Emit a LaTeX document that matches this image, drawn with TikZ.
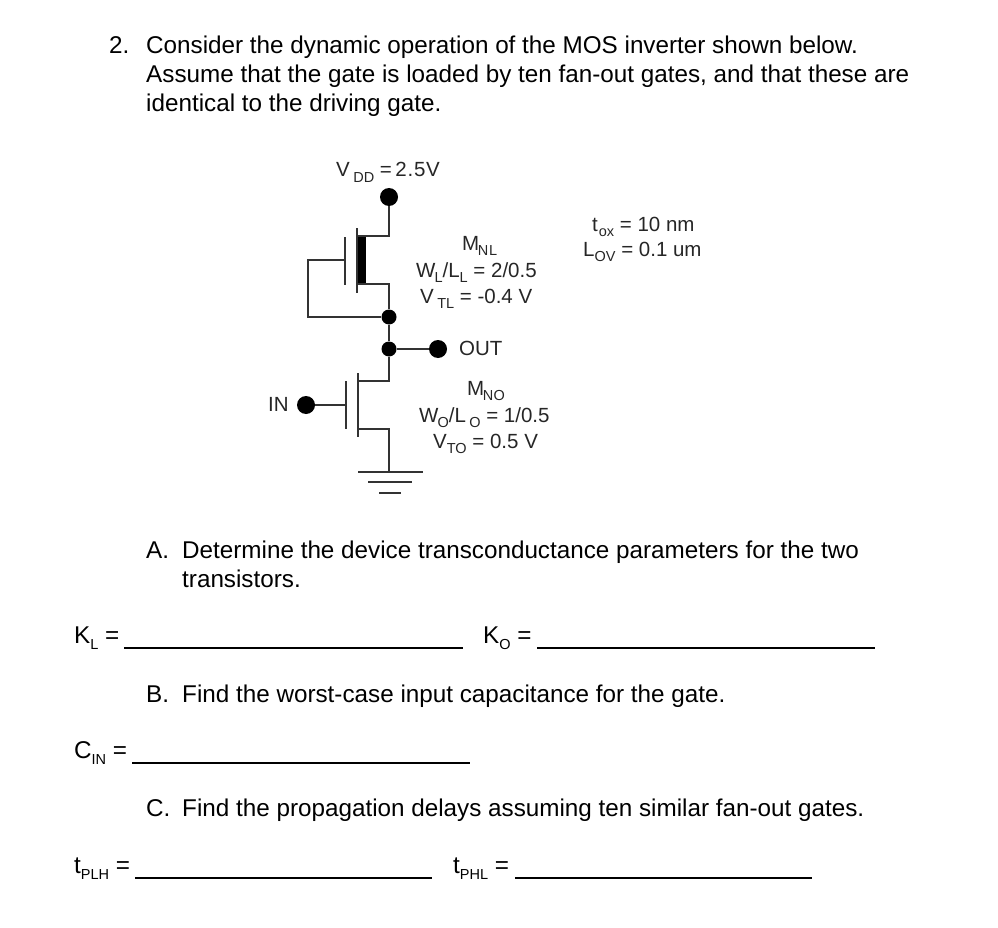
\documentclass[tikz,border=0pt]{standalone}
\usepackage{fontspec}
\setmainfont{Liberation Sans}
\newcommand{\lowtext}[1]{\raisebox{-.25em}{\fontsize{14.5}{15}\selectfont #1}}

\begin{document}
\begin{tikzpicture}[x=1pt, y=-1pt,
  txt/.style={anchor=base west, inner sep=0pt, font=\fontsize{24.25}{28}\selectfont},
  lbl/.style={anchor=base west, inner sep=0pt, text=black!85, font=\fontsize{20.5}{24}\selectfont},
  wire/.style={line width=1.35pt, draw=black!80},
  blank/.style={line width=1.3pt},
  pin/.style={circle, fill=black, inner sep=0pt, minimum size=18pt},
  junction/.style={circle, fill=black, inner sep=0pt, minimum size=15pt}]

\useasboundingbox (0,0) rectangle (998,928);

% problem text
\node[txt] (num) at (109,54) {2.};
\node[txt] (line1) at (146,54) {Consider the dynamic operation of the MOS inverter shown below.};
\node[txt] (line2) at (146,83) {Assume that the gate is loaded by ten fan-out gates, and that these are};
\node[txt] (line3) at (146,112) {identical to the driving gate.};

% load transistor
\node[pin] (vdd) at (389,197) {};
\node[junction] (mid) at (389,317) {};
\node[junction] (out) at (389,349) {};
\node[pin] (outpin) at (438,349) {};
\coordinate (dl) at (389,236);
\coordinate (sl) at (389,284);
\coordinate (dlc) at (357,236);
\coordinate (slc) at (357,284);
\coordinate (gl) at (345,260);
\coordinate (back) at (308,260);
\coordinate (backb) at (308,317);
\fill (357,236) rectangle (366,284);
\draw[wire] (357,228) -- (357,293);
\draw[wire] (345,237) -- (345,285);
\draw[wire] (vdd) -- (dl) -- (dlc);
\draw[wire] (slc) -- (sl) -- (mid);
\draw[wire] (gl) -- (back) -- (backb) -- (mid);
\draw[wire] (mid) -- (out);
\draw[wire] (out) -- (outpin);

% driver transistor
\node[pin] (inpin) at (306,405) {};
\coordinate (dd) at (389,381);
\coordinate (ddc) at (358,381);
\coordinate (sd) at (389,429);
\coordinate (sdc) at (358,429);
\coordinate (gd) at (346,405);
\coordinate (gnd) at (389,472);
\draw[wire] (358,373) -- (358,437);
\draw[wire] (346,381) -- (346,429);
\draw[wire] (out) -- (dd) -- (ddc);
\draw[wire] (sdc) -- (sd) -- (gnd);
\draw[wire] (inpin) -- (gd);

% ground
\draw[wire] (358,472) -- (423,472);
\draw[wire] (368,482) -- (412,482);
\draw[wire] (379,493) -- (401,493);

% circuit labels
\node[lbl] (vddlbl) at (336,177) {V\,\lowtext{DD} =\,2\kern.8pt.\kern.8pt5\kern.8pt V};
\node[lbl] (mnl) at (462,250) {M\kern-1.5pt\lowtext{N\kern1pt L}};
\node[lbl] (wll) at (416,277) {W\kern-1pt\lowtext{L}/L\lowtext{L} = 2/0.5};
\node[lbl] (vtl) at (420,303) {V\,\lowtext{TL} = -0.4 V};
\node[lbl] (outlbl) at (459,355) {OUT};
\node[lbl] (inlbl) at (268,411) {IN};
\node[lbl] (mno) at (467,395) {M\kern-1.5pt\lowtext{N\kern.5pt O}};
\node[lbl] (wlo) at (419,422) {W\kern-1pt\lowtext{O}/L\,\lowtext{O} = 1/0.5};
\node[lbl] (vto) at (433,448) {V\lowtext{TO} = 0.5 V};
\node[lbl] (tox) at (592,231) {t\kern1pt\lowtext{ox} = 10 nm};
\node[lbl] (lov) at (583,256) {L\lowtext{OV} = 0.1 um};

% question A
\node[txt] (qa) at (146,558) {A.};
\node[txt] (qa1) at (182,558) {Determine the device transconductance parameters for the two};
\node[txt] (qa2) at (182,587) {transistors.};
\node[txt] (kl) at (74,643) {K\lowtext{L} =};
\node[txt] (ko) at (483,643) {K\lowtext{O} =};
\coordinate (kla) at (124,648);
\coordinate (klb) at (463,648);
\coordinate (koa) at (537,648);
\coordinate (kob) at (875,648);
\draw[blank] (kla) -- (klb);
\draw[blank] (koa) -- (kob);

% question B
\node[txt] (qb) at (146,702) {B.};
\node[txt] (qb1) at (182,702) {Find the worst-case input capacitance for the gate.};
\node[txt] (cin) at (74,758) {C\lowtext{IN} =};
\coordinate (cina) at (132,763);
\coordinate (cinb) at (470,763);
\draw[blank] (cina) -- (cinb);

% question C
\node[txt] (qc) at (146,816) {C.};
\node[txt] (qc1) at (182,816) {Find the propagation delays assuming ten similar fan-out gates.};
\node[txt] (tplh) at (74,873) {t\lowtext{PLH} =};
\node[txt] (tphl) at (453,873) {t\lowtext{PHL} =};
\coordinate (tpa) at (135,878);
\coordinate (tpb) at (432,878);
\coordinate (tna) at (515,878);
\coordinate (tnb) at (812,878);
\draw[blank] (tpa) -- (tpb);
\draw[blank] (tna) -- (tnb);
\end{tikzpicture}
\end{document}
